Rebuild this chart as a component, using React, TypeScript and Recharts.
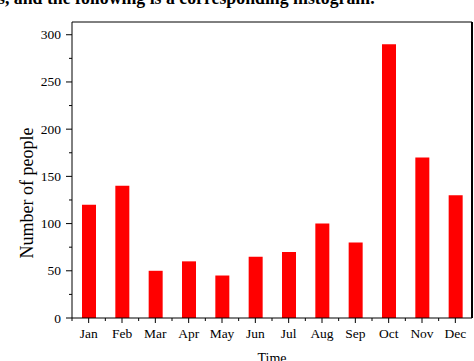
import { BarChart, Bar, XAxis, YAxis } from 'recharts';

const months = ['Jan', 'Feb', 'Mar', 'Apr', 'May', 'Jun', 'Jul', 'Aug', 'Sep', 'Oct', 'Nov', 'Dec'];
const people = [120, 140, 50, 60, 45, 65, 70, 100, 80, 290, 170, 130];
const yTicks = [0, 25, 50, 75, 100, 125, 150, 175, 200, 225, 250, 275, 300];

const data = months.map((m, i) => ({ month: m, people: people[i] }));

const W = 474;
const H = 361;
const FONT = '"Liberation Serif", "Times New Roman", serif';
const BAND = 400 / months.length;

// y ticks: labels on multiples of 50, short minor ticks in between
const YTick = ({ x, y, payload }: any) => {
  const major = payload.value % 50 === 0;
  return (
    <g>
      <line x1={x - (major ? 6 : 3)} y1={y} x2={x} y2={y} stroke="#000" strokeWidth={1} />
      {major && (
        <text x={x - 11} y={y} dy={4.5} textAnchor="end" fontSize={13.5} fontFamily={FONT} fill="#000">
          {payload.value}
        </text>
      )}
    </g>
  );
};

// x ticks: major at the category, minor at the band boundary
const XTick = ({ x, y, payload }: any) => (
  <g>
    <line x1={x} y1={y} x2={x} y2={y + 5} stroke="#000" strokeWidth={1} />
    <line x1={x - BAND / 2} y1={y} x2={x - BAND / 2} y2={y + 3} stroke="#000" strokeWidth={1} />
    <text x={x} y={y + 20} textAnchor="middle" fontSize={13.5} fontFamily={FONT} fill="#000">
      {payload.value}
    </text>
  </g>
);

export default function App() {
  return (
    <div style={{ position: 'fixed', left: 0, top: 0, width: W, height: H, background: '#fff', overflow: 'hidden' }}>
      <BarChart width={W} height={H} data={data} margin={{ top: 21, right: 1, bottom: 0, left: 0 }}>
        <XAxis
          dataKey="month"
          height={43}
          tickSize={0}
          tickMargin={0}
          interval={0}
          stroke="#000"
          axisLine={{ stroke: '#000', strokeWidth: 1 }}
          tick={<XTick />}
        />
        <XAxis
          xAxisId="top"
          dataKey="month"
          orientation="top"
          height={1}
          tick={false}
          tickLine={false}
          stroke="#000"
          axisLine={{ stroke: '#000', strokeWidth: 1 }}
        />
        <YAxis
          width={72}
          domain={[0, 313.5]}
          ticks={yTicks}
          interval={0}
          tickSize={0}
          tickMargin={0}
          stroke="#000"
          axisLine={{ stroke: '#000', strokeWidth: 1 }}
          tick={<YTick />}
        />
        <YAxis
          yAxisId="right"
          orientation="right"
          width={1}
          tick={false}
          tickLine={false}
          stroke="#000"
          axisLine={{ stroke: '#000', strokeWidth: 2 }}
        />
        <Bar dataKey="people" fill="#ff0000" barSize={14} isAnimationActive={false} />
      </BarChart>
      <svg width={W} height={H} style={{ position: 'absolute', left: 0, top: 0, pointerEvents: 'none' }}>
        <text x={-2} y={4} fontSize={17.8} fontWeight="bold" fontFamily={FONT} fill="#000">
          s, and the following is a corresponding histogram.
        </text>
        <text x={33} y={193} transform="rotate(-90 33 193)" textAnchor="middle" fontSize={18} fontFamily={FONT} fill="#000">
          Number of people
        </text>
        <text x={272} y={363} textAnchor="middle" fontSize={14} fontFamily={FONT} fill="#000">
          Time
        </text>
      </svg>
    </div>
  );
}
